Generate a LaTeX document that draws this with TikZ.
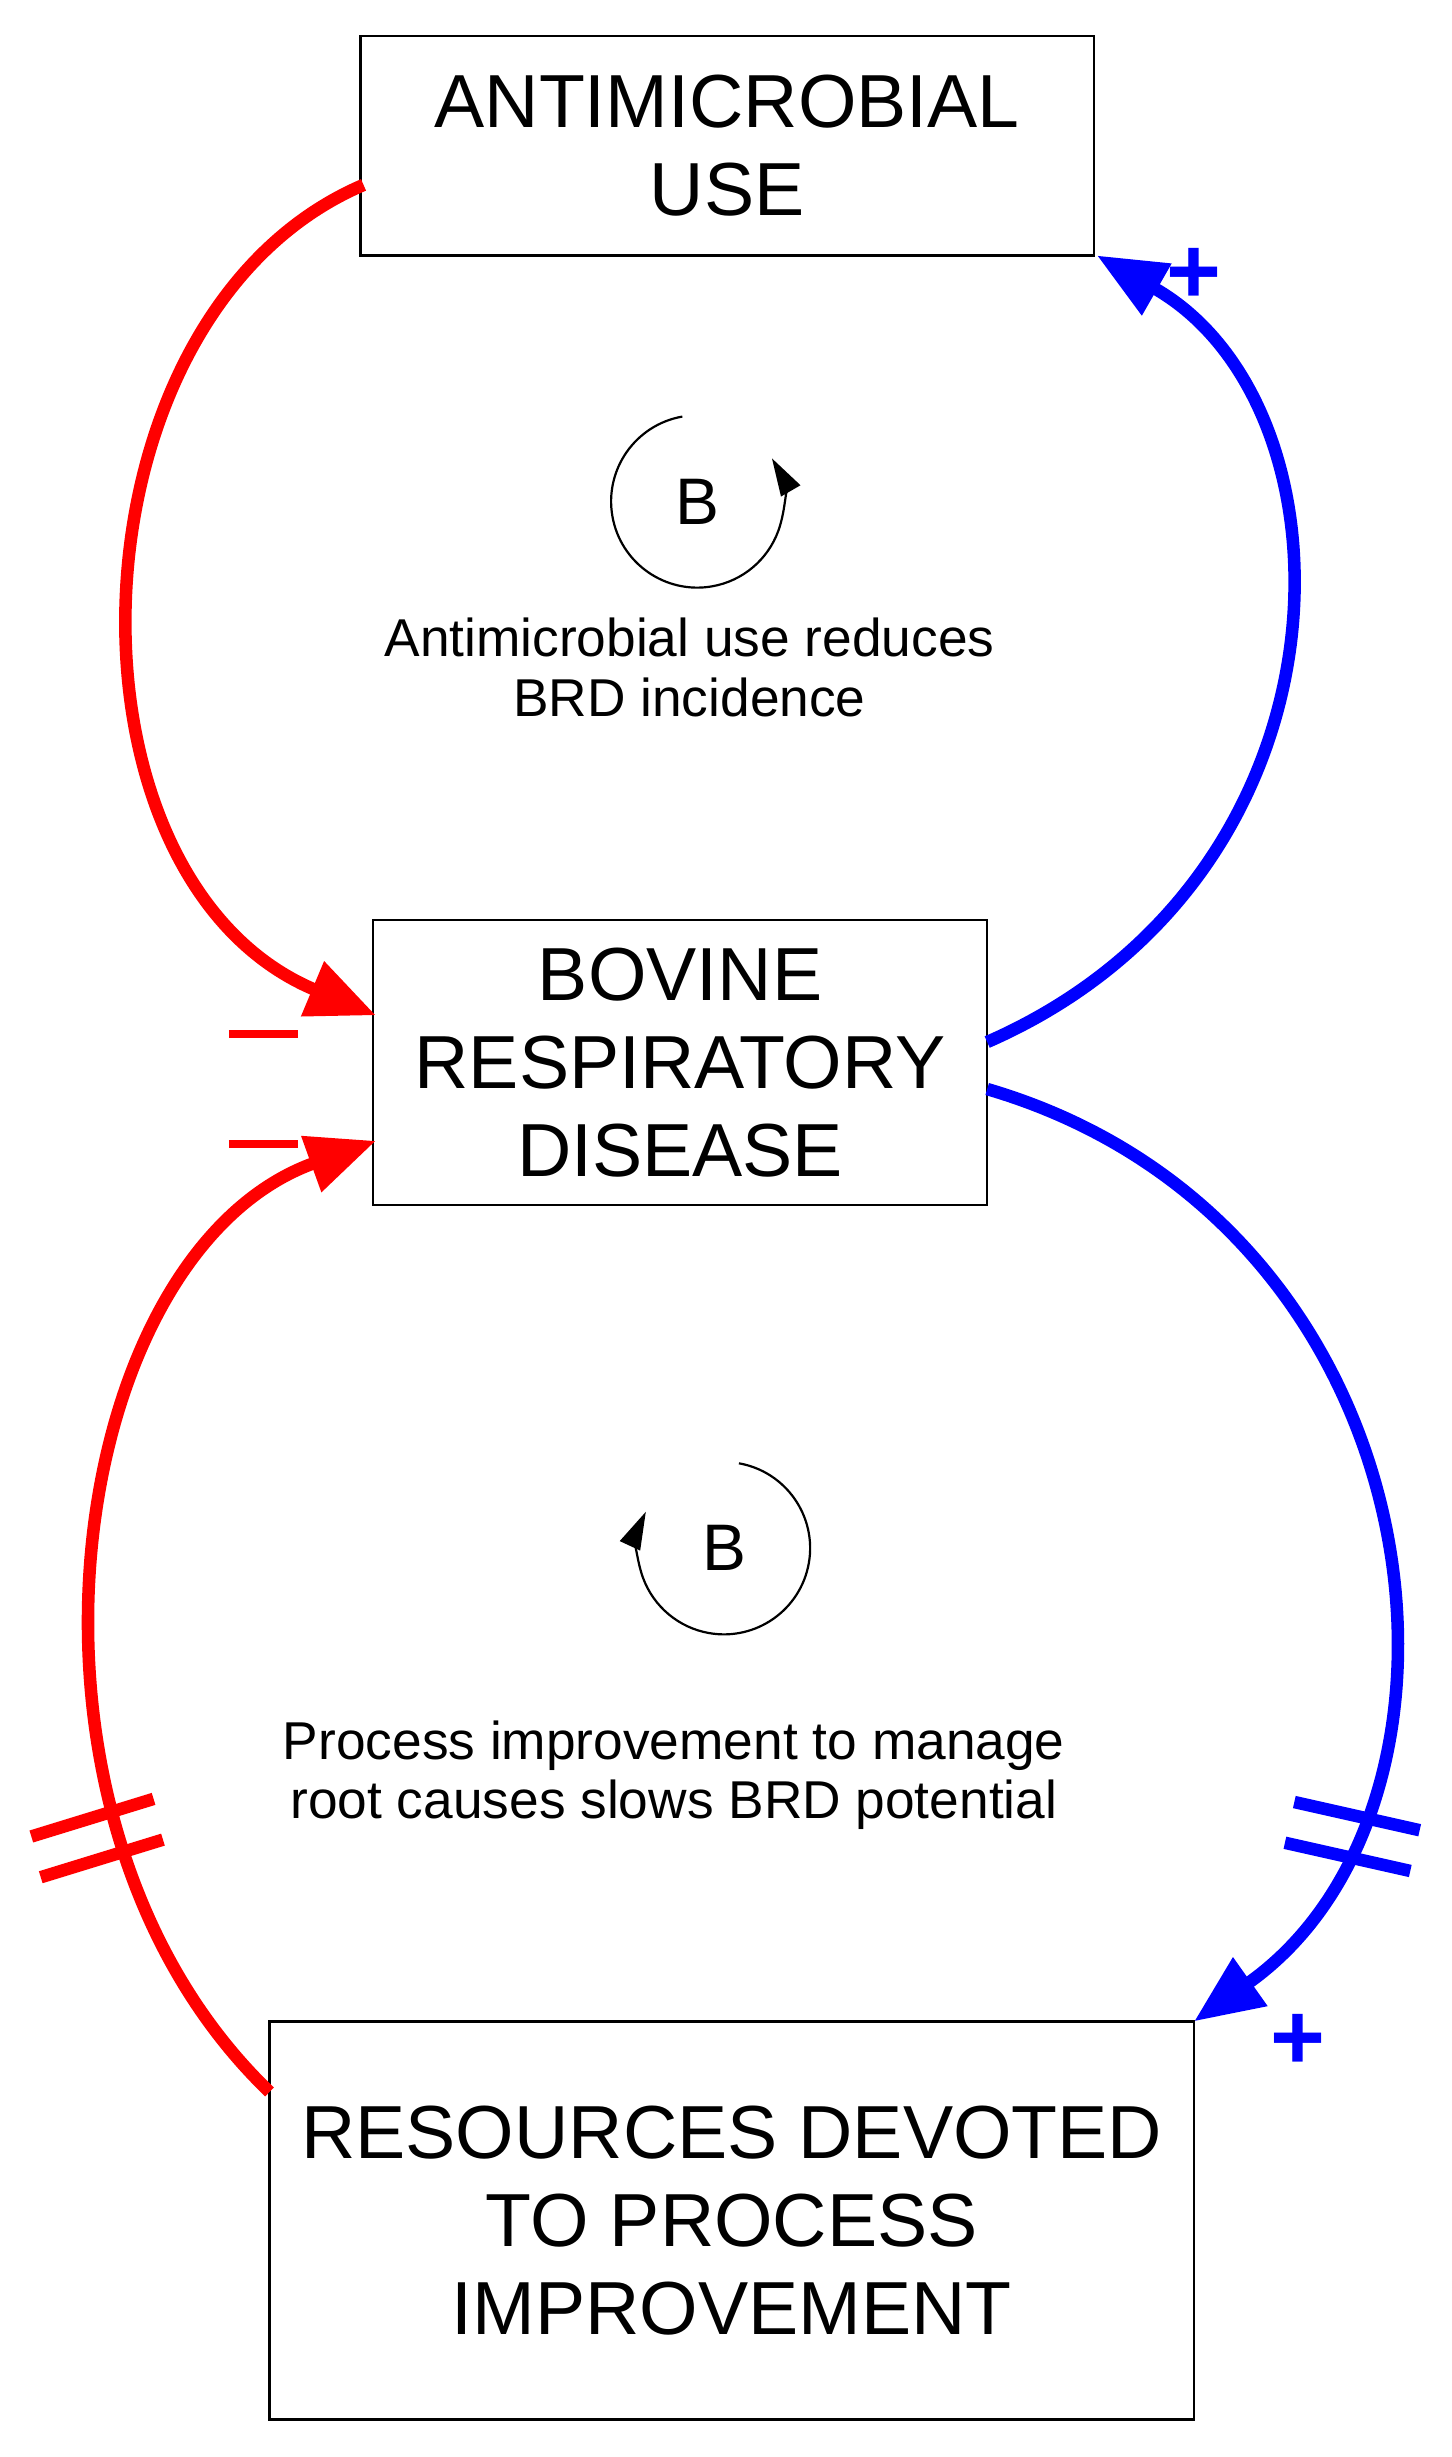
\documentclass[tikz,border=0pt]{standalone}
\usepackage{fontspec}
\setmainfont{Liberation Sans}
\usetikzlibrary{arrows.meta}
\begin{document}
\begin{tikzpicture}[x=0.5pt,y=-0.5pt,
  box/.style={draw,line width=0.8pt,align=center,font=\fontsize{24}{28}\selectfont,inner sep=0pt},
  lnk/.style={line width=4pt,-{Triangle[length=22pt,width=18pt]}},
  pol/.style={font=\fontsize{30}{30}\selectfont\bfseries},
  lbl/.style={align=center,font=\fontsize{17}{19}\selectfont},
  loop/.style={line width=0.7pt,-{Triangle[length=12pt,width=7pt]}}]
\useasboundingbox (0,0) rectangle (926,1568);
\node[box,minimum width=234pt,minimum height=70pt] (amu) at (464,93) {ANTIMICROBIAL\\USE};
\node[box,minimum width=196pt,minimum height=91pt] (brd) at (434,678) {BOVINE\\RESPIRATORY\\DISEASE};
\node[box,minimum width=295pt,minimum height=127pt] (res) at (467,1417) {RESOURCES DEVOTED\\TO PROCESS\\IMPROVEMENT};
\coordinate (a1) at (232,118);
\coordinate (b1) at (240,648);
\coordinate (b2) at (630,665);
\coordinate (a2) at (700,163);
\coordinate (r1) at (172,1335);
\coordinate (b3) at (240,728);
\coordinate (b4) at (630,695);
\coordinate (r2) at (762,1290);
\draw[lnk,red] (a1) .. controls (40,200) and (30,560) .. (b1);
\draw[lnk,blue] (b2) .. controls (870,560) and (870,260) .. (a2);
\draw[lnk,red] (r1) .. controls (-10,1160) and (40,800) .. (b3);
\draw[lnk,blue] (b4) .. controls (920,780) and (960,1150) .. (r2);
\node[red,font=\fontsize{30}{30}\selectfont] (m1) at (168,660) {\rule{22pt}{2.5pt}};
\node[red,font=\fontsize{30}{30}\selectfont] (m2) at (168,730) {\rule{22pt}{2.5pt}};
\node[pol,blue] (p1) at (762,176) {+};
\node[pol,blue] (p2) at (828,1303) {+};
\draw[red,line width=4pt] (20,1172) -- (98,1148) (26,1198) -- (104,1174);
\draw[blue,line width=4pt] (826,1150) -- (906,1168) (820,1176) -- (900,1194);
\node[font=\fontsize{21}{21}\selectfont] (B1) at (445,320) {B};
\draw[loop] (B1) ++(-100:55) arc (-100:-390:55);
\node[font=\fontsize{21}{21}\selectfont] (B2) at (462,988) {B};
\draw[loop] (B2) ++(-80:55) arc (-80:205:55);
\node[lbl] (t1) at (440,426) {Antimicrobial use reduces\\BRD incidence};
\node[lbl] (t2) at (430,1133) {Process improvement to manage\\root causes slows BRD potential};
\end{tikzpicture}
\end{document}
